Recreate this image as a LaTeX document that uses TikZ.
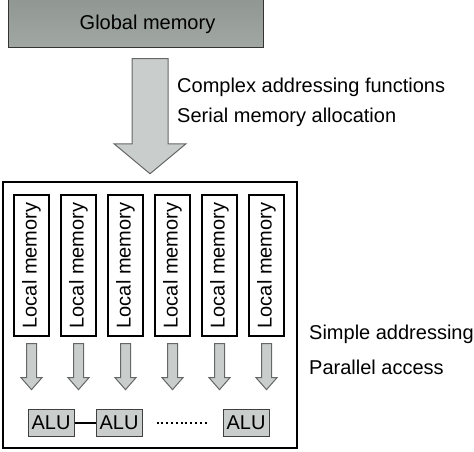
\documentclass[tikz,border=0pt]{standalone}
\usepackage{fontspec}
\setmainfont{Liberation Sans}
\usetikzlibrary{positioning}

\definecolor{arrowfill}{RGB}{201,205,203}
\definecolor{arrowline}{RGB}{100,103,101}
\definecolor{gmdark}{RGB}{145,152,148}
\definecolor{gmlight}{RGB}{244,246,245}

\begin{document}
\begin{tikzpicture}[
x=1pt, y=1pt,
every node/.style={font=\fontsize{20}{24}\selectfont},
globalbox/.style={
  draw=black!80,
  line width=1pt,
  top color=gmdark,
  middle color=gmlight,
  bottom color=gmdark!85,
  minimum width=255pt,
  minimum height=48pt,
  inner sep=0pt
  },
localmem/.style={
  draw,
  fill=white,
  line width=1.3pt,
  minimum width=35pt,
  minimum height=141pt,
  inner sep=0pt
  },
alubox/.style={
  draw=black!75,
  fill=arrowfill,
  line width=1pt,
  minimum width=46pt,
  minimum height=27pt,
  inner sep=0pt
  },
fatarrow/.style={
  draw=arrowline,
  fill=arrowfill,
  line width=1pt,
  line join=miter
  },
note/.style={anchor=base west, inner sep=0pt}
]
\useasboundingbox (0,0) rectangle (474,451);

\node[globalbox] (gm) at (135.5,427) {\hspace*{24pt}Global memory};
\node[draw, line width=2.5pt, minimum width=294pt, minimum height=266pt] (outer) at (150,136) {};

% big arrow into the array
\draw[fatarrow] ([yshift=7pt]outer.north) -- ++(-36,30) -- ++(18,0) -- ++(0,85)
  -- ++(36,0) -- ++(0,-85) -- ++(18,0) -- cycle;

\node[note] (cplx) at (177,359) {Complex addressing functions};
\node[note] (serial) at (177,329) {Serial memory allocation};

% local memories and their arrows
\foreach \Value in {1,...,6}{
  \node[localmem] (lm\Value) at ({31.5+47*(\Value-1)},185.5) {\rotatebox{90}{Local memory}};
  \draw[fatarrow] ([yshift=-7pt]lm\Value.south) -- ++(5,0) -- ++(0,-34) -- ++(5.5,0)
    -- ++(-10.5,-12) -- ++(-10.5,12) -- ++(5.5,0) -- ++(0,34) -- cycle;
}

\node[note] (simple) at (309,112) {Simple addressing};
\node[note] (parallel) at (309,77) {Parallel access};

\node[alubox] (alu1) at (51,28.5) {ALU};
\node[alubox] (alu2) at (119,28.5) {ALU};
\node[alubox] (alu3) at (246,28.5) {ALU};
\draw[line width=2pt] (alu1) -- (alu2);
\draw[line width=2pt, dash pattern=on 2pt off 2.8pt, shorten <=14pt, shorten >=15pt] (alu2) -- (alu3);
\end{tikzpicture}
\end{document}
